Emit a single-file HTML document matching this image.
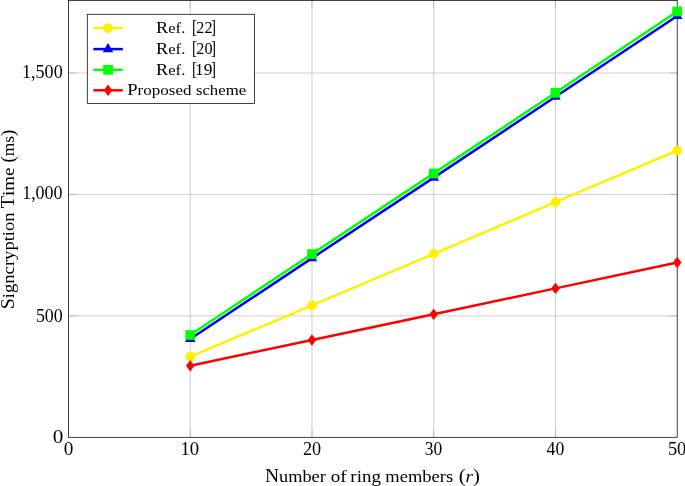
<!DOCTYPE html><html><head><meta charset="utf-8"><style>html,body{margin:0;padding:0;background:#fff;}svg{display:block;}text{font-family:"Liberation Serif",serif;fill:#000;}</style></head><body>
<svg width="685" height="486" viewBox="0 0 685 486">
<line x1="190.24" y1="0.6" x2="190.24" y2="437.3" stroke="#bfbfbf" stroke-width="0.75"/>
<line x1="311.98" y1="0.6" x2="311.98" y2="437.3" stroke="#bfbfbf" stroke-width="0.75"/>
<line x1="433.72" y1="0.6" x2="433.72" y2="437.3" stroke="#bfbfbf" stroke-width="0.75"/>
<line x1="555.46" y1="0.6" x2="555.46" y2="437.3" stroke="#bfbfbf" stroke-width="0.75"/>
<line x1="68.5" y1="315.87" x2="677.20" y2="315.87" stroke="#bfbfbf" stroke-width="0.75"/>
<line x1="68.5" y1="194.43" x2="677.20" y2="194.43" stroke="#bfbfbf" stroke-width="0.75"/>
<line x1="68.5" y1="73.00" x2="677.20" y2="73.00" stroke="#bfbfbf" stroke-width="0.75"/>
<line x1="190.24" y1="437.3" x2="190.24" y2="429.7" stroke="#808080" stroke-width="0.4"/>
<line x1="190.24" y1="0.6" x2="190.24" y2="8.2" stroke="#808080" stroke-width="0.4"/>
<line x1="311.98" y1="437.3" x2="311.98" y2="429.7" stroke="#808080" stroke-width="0.4"/>
<line x1="311.98" y1="0.6" x2="311.98" y2="8.2" stroke="#808080" stroke-width="0.4"/>
<line x1="433.72" y1="437.3" x2="433.72" y2="429.7" stroke="#808080" stroke-width="0.4"/>
<line x1="433.72" y1="0.6" x2="433.72" y2="8.2" stroke="#808080" stroke-width="0.4"/>
<line x1="555.46" y1="437.3" x2="555.46" y2="429.7" stroke="#808080" stroke-width="0.4"/>
<line x1="555.46" y1="0.6" x2="555.46" y2="8.2" stroke="#808080" stroke-width="0.4"/>
<line x1="68.5" y1="315.87" x2="76.1" y2="315.87" stroke="#808080" stroke-width="0.4"/>
<line x1="677.20" y1="315.87" x2="669.60" y2="315.87" stroke="#808080" stroke-width="0.4"/>
<line x1="68.5" y1="194.43" x2="76.1" y2="194.43" stroke="#808080" stroke-width="0.4"/>
<line x1="677.20" y1="194.43" x2="669.60" y2="194.43" stroke="#808080" stroke-width="0.4"/>
<line x1="68.5" y1="73.00" x2="76.1" y2="73.00" stroke="#808080" stroke-width="0.4"/>
<line x1="677.20" y1="73.00" x2="669.60" y2="73.00" stroke="#808080" stroke-width="0.4"/>
<rect x="68.5" y="0.6" width="608.70" height="436.70" fill="none" stroke="#000" stroke-width="0.75"/>
<polyline points="190.24,356.65 311.98,305.40 433.72,253.85 555.46,202.10 677.20,150.50" fill="none" stroke="#FFF000" stroke-width="2.5" stroke-linejoin="round"/>
<circle cx="190.24" cy="356.65" r="3.60" fill="#FFF000" stroke="#FFF000" stroke-width="2.5"/>
<circle cx="311.98" cy="305.40" r="3.60" fill="#FFF000" stroke="#FFF000" stroke-width="2.5"/>
<circle cx="433.72" cy="253.85" r="3.60" fill="#FFF000" stroke="#FFF000" stroke-width="2.5"/>
<circle cx="555.46" cy="202.10" r="3.60" fill="#FFF000" stroke="#FFF000" stroke-width="2.5"/>
<circle cx="677.20" cy="150.50" r="3.60" fill="#FFF000" stroke="#FFF000" stroke-width="2.5"/>
<polyline points="190.24,338.95 311.98,258.15 433.72,177.65 555.46,96.75 677.20,15.95" fill="none" stroke="#0000FF" stroke-width="2.5" stroke-linejoin="round"/>
<polygon points="190.24,335.35 187.12,340.75 193.36,340.75" fill="#0000FF" stroke="#0000FF" stroke-width="2.5"/>
<polygon points="311.98,254.55 308.86,259.95 315.10,259.95" fill="#0000FF" stroke="#0000FF" stroke-width="2.5"/>
<polygon points="433.72,174.05 430.60,179.45 436.84,179.45" fill="#0000FF" stroke="#0000FF" stroke-width="2.5"/>
<polygon points="555.46,93.15 552.34,98.55 558.58,98.55" fill="#0000FF" stroke="#0000FF" stroke-width="2.5"/>
<polygon points="677.20,12.35 674.08,17.75 680.32,17.75" fill="#0000FF" stroke="#0000FF" stroke-width="2.5"/>
<polyline points="190.24,335.00 311.98,254.05 433.72,173.40 555.46,92.80 677.20,11.50" fill="none" stroke="#00FF00" stroke-width="2.5" stroke-linejoin="round"/>
<rect x="186.64" y="331.40" width="7.20" height="7.20" fill="#00FF00" stroke="#00FF00" stroke-width="2.5"/>
<rect x="308.38" y="250.45" width="7.20" height="7.20" fill="#00FF00" stroke="#00FF00" stroke-width="2.5"/>
<rect x="430.12" y="169.80" width="7.20" height="7.20" fill="#00FF00" stroke="#00FF00" stroke-width="2.5"/>
<rect x="551.86" y="89.20" width="7.20" height="7.20" fill="#00FF00" stroke="#00FF00" stroke-width="2.5"/>
<rect x="673.60" y="7.90" width="7.20" height="7.20" fill="#00FF00" stroke="#00FF00" stroke-width="2.5"/>
<polyline points="190.24,365.75 311.98,340.00 433.72,314.25 555.46,288.40 677.20,262.50" fill="none" stroke="#FF0000" stroke-width="2.5" stroke-linejoin="round"/>
<polygon points="190.24,362.15 192.94,365.75 190.24,369.35 187.54,365.75" fill="#FF0000" stroke="#FF0000" stroke-width="2.5" stroke-miterlimit="10"/>
<polygon points="311.98,336.40 314.68,340.00 311.98,343.60 309.28,340.00" fill="#FF0000" stroke="#FF0000" stroke-width="2.5" stroke-miterlimit="10"/>
<polygon points="433.72,310.65 436.42,314.25 433.72,317.85 431.02,314.25" fill="#FF0000" stroke="#FF0000" stroke-width="2.5" stroke-miterlimit="10"/>
<polygon points="555.46,284.80 558.16,288.40 555.46,292.00 552.76,288.40" fill="#FF0000" stroke="#FF0000" stroke-width="2.5" stroke-miterlimit="10"/>
<polygon points="677.20,258.90 679.90,262.50 677.20,266.10 674.50,262.50" fill="#FF0000" stroke="#FF0000" stroke-width="2.5" stroke-miterlimit="10"/>
<rect x="87.3" y="14.3" width="167.20" height="89.30" fill="#fff" stroke="#000" stroke-width="0.75"/>
<line x1="93.3" y1="28.1" x2="122.8" y2="28.1" stroke="#FFF000" stroke-width="2.5"/>
<circle cx="108.05" cy="28.10" r="3.60" fill="#FFF000" stroke="#FFF000" stroke-width="2.5"/>
<line x1="93.3" y1="49.1" x2="122.8" y2="49.1" stroke="#0000FF" stroke-width="2.5"/>
<polygon points="108.05,45.50 104.93,50.90 111.17,50.90" fill="#0000FF" stroke="#0000FF" stroke-width="2.5"/>
<line x1="93.3" y1="69.8" x2="122.8" y2="69.8" stroke="#00FF00" stroke-width="2.5"/>
<rect x="104.45" y="66.20" width="7.20" height="7.20" fill="#00FF00" stroke="#00FF00" stroke-width="2.5"/>
<line x1="93.3" y1="90.3" x2="122.8" y2="90.3" stroke="#FF0000" stroke-width="2.5"/>
<polygon points="108.05,86.70 110.75,90.30 108.05,93.90 105.35,90.30" fill="#FF0000" stroke="#FF0000" stroke-width="2.5" stroke-miterlimit="10"/>
<text x="52.85" y="443.00" font-size="18.5" textLength="10.61" lengthAdjust="spacingAndGlyphs">0</text>
<text x="35.90" y="321.70" font-size="18.5" textLength="26.87" lengthAdjust="spacingAndGlyphs">500</text>
<text x="22.18" y="199.20" font-size="18.5" textLength="40.35" lengthAdjust="spacingAndGlyphs">1,000</text>
<text x="21.98" y="77.90" font-size="18.5" textLength="40.74" lengthAdjust="spacingAndGlyphs">1,500</text>
<text x="63.72" y="454.80" font-size="18.5" textLength="9.59" lengthAdjust="spacingAndGlyphs">0</text>
<text x="180.50" y="454.70" font-size="18.5" textLength="18.73" lengthAdjust="spacingAndGlyphs">10</text>
<text x="302.93" y="454.70" font-size="18.5" textLength="18.20" lengthAdjust="spacingAndGlyphs">20</text>
<text x="424.78" y="454.70" font-size="18.5" textLength="17.43" lengthAdjust="spacingAndGlyphs">30</text>
<text x="546.57" y="454.70" font-size="18.5" textLength="17.70" lengthAdjust="spacingAndGlyphs">40</text>
<text x="667.90" y="454.70" font-size="18.5" textLength="18.36" lengthAdjust="spacingAndGlyphs">50</text>
<text x="156.14" y="32.85" font-size="15.2" textLength="29.18" lengthAdjust="spacingAndGlyphs"><tspan font-size="16.6">R</tspan>ef.</text>
<text x="192.02" y="32.85" font-size="15.2" textLength="5.04" lengthAdjust="spacingAndGlyphs"><tspan font-size="18.2">[</tspan></text>
<text x="196.30" y="32.85" font-size="15.2" textLength="16.16" lengthAdjust="spacingAndGlyphs"><tspan font-size="15.9">22</tspan></text>
<text x="211.08" y="32.85" font-size="15.2" textLength="5.02" lengthAdjust="spacingAndGlyphs"><tspan font-size="18.2">]</tspan></text>
<text x="156.14" y="53.60" font-size="15.2" textLength="29.18" lengthAdjust="spacingAndGlyphs"><tspan font-size="16.6">R</tspan>ef.</text>
<text x="192.02" y="53.60" font-size="15.2" textLength="5.04" lengthAdjust="spacingAndGlyphs"><tspan font-size="18.2">[</tspan></text>
<text x="196.31" y="53.60" font-size="15.2" textLength="16.16" lengthAdjust="spacingAndGlyphs"><tspan font-size="15.9">20</tspan></text>
<text x="211.08" y="53.60" font-size="15.2" textLength="5.02" lengthAdjust="spacingAndGlyphs"><tspan font-size="18.2">]</tspan></text>
<text x="156.14" y="75.00" font-size="15.2" textLength="29.18" lengthAdjust="spacingAndGlyphs"><tspan font-size="16.6">R</tspan>ef.</text>
<text x="192.02" y="75.00" font-size="15.2" textLength="5.04" lengthAdjust="spacingAndGlyphs"><tspan font-size="18.2">[</tspan></text>
<text x="195.03" y="75.00" font-size="15.2" textLength="17.33" lengthAdjust="spacingAndGlyphs"><tspan font-size="15.9">19</tspan></text>
<text x="211.08" y="75.00" font-size="15.2" textLength="5.02" lengthAdjust="spacingAndGlyphs"><tspan font-size="18.2">]</tspan></text>
<text x="127.28" y="94.60" font-size="15.2" textLength="64.24" lengthAdjust="spacingAndGlyphs"><tspan font-size="16.6">P</tspan>roposed</text>
<text x="195.90" y="94.60" font-size="15.2" textLength="50.20" lengthAdjust="spacingAndGlyphs">scheme</text>
<text x="264.99" y="482.00" font-size="17.1" textLength="60.80" lengthAdjust="spacingAndGlyphs"><tspan font-size="18.2">N</tspan>umber</text>
<text x="330.70" y="482.00" font-size="17.1" textLength="15.88" lengthAdjust="spacingAndGlyphs">of</text>
<text x="350.33" y="482.00" font-size="17.1" textLength="30.57" lengthAdjust="spacingAndGlyphs">ring</text>
<text x="385.31" y="482.00" font-size="17.1" textLength="67.80" lengthAdjust="spacingAndGlyphs">members</text>
<text x="458.69" y="482.00" font-size="17.1" textLength="21.36" lengthAdjust="spacingAndGlyphs"><tspan font-size="18.4">(</tspan><tspan font-style="italic">r</tspan><tspan font-size="18.4">)</tspan></text>
<text transform="translate(13.70,309.17) rotate(-90)" x="0" y="0" font-size="17.1" textLength="96.82" lengthAdjust="spacingAndGlyphs"><tspan font-size="18.2">S</tspan>igncryption</text>
<text transform="translate(13.70,208.29) rotate(-90)" x="0" y="0" font-size="17.1" textLength="40.66" lengthAdjust="spacingAndGlyphs"><tspan font-size="18.2">T</tspan>ime</text>
<text transform="translate(13.70,162.61) rotate(-90)" x="0" y="0" font-size="17.1" textLength="32.88" lengthAdjust="spacingAndGlyphs"><tspan font-size="18.4">(</tspan>ms<tspan font-size="18.4">)</tspan></text>
</svg></body></html>
